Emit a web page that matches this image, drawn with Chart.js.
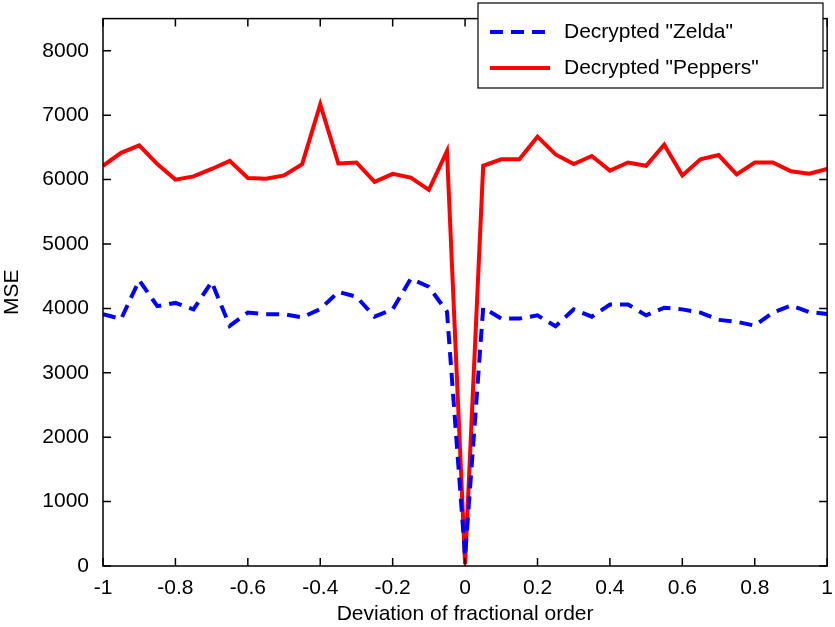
<!DOCTYPE html>
<html>
<head>
<meta charset="utf-8">
<script src="https://cdn.jsdelivr.net/npm/chart.js@4"></script>
<style>
  html, body { margin: 0; padding: 0; background: #fff; }
  #wrap { width: 835px; height: 627px; }
</style>
</head>
<body>
<div id="wrap"><canvas id="mseChart" width="835" height="627"></canvas></div>
<script>
// --- Data ---
const deviations = [-1, -0.95, -0.9, -0.85, -0.8, -0.75, -0.7, -0.65, -0.6, -0.55, -0.5, -0.45, -0.4, -0.35, -0.3, -0.25, -0.2, -0.15, -0.1, -0.05,
    0, 0.05, 0.1, 0.15, 0.2, 0.25, 0.3, 0.35, 0.4, 0.45, 0.5, 0.55, 0.6, 0.65, 0.7, 0.75, 0.8, 0.85, 0.9, 0.95, 1];
const zeldaMSE = [3910, 3835, 4436, 4035, 4085, 3985, 4411, 3727, 3935, 3910, 3910, 3860, 3990, 4256, 4181, 3872, 3985, 4461, 4336, 3950,
    150, 4010, 3842, 3842, 3892, 3722, 3985, 3872, 4060, 4060, 3892, 4010, 3985, 3935, 3822, 3792, 3732, 3935, 4045, 3945, 3912];
const peppersMSE = [6215, 6416, 6531, 6241, 6000, 6050, 6165, 6291, 6025, 6015, 6065, 6241, 7168, 6250, 6266, 5965, 6090, 6030, 5840, 6441,
    30, 6215, 6316, 6316, 6667, 6391, 6241, 6366, 6140, 6266, 6215, 6541, 6065, 6316, 6381, 6080, 6266, 6266, 6130, 6090, 6165];
const seriesNames = ['Decrypted "Zelda"', 'Decrypted "Peppers"'];
const yTicks = [0, 1000, 2000, 3000, 4000, 5000, 6000, 7000, 8000];
const xTicks = [-1, -0.8, -0.6, -0.4, -0.2, 0, 0.2, 0.4, 0.6, 0.8, 1];

const FONT = 'Arial, "Liberation Sans", sans-serif';
const toPoints = vals => vals.map((v, i) => ({ x: deviations[i], y: v }));

// frame, inward ticks and the legend box, drawn like the MATLAB figure
const framePlugin = {
    id: 'frame',
    afterDraw(chart) {
        const { ctx, chartArea: a, scales: { x, y } } = chart;
        ctx.save();
        ctx.strokeStyle = '#000';
        ctx.lineWidth = 1.5;
        ctx.strokeRect(a.left, a.top, a.right - a.left, a.bottom - a.top);
        ctx.beginPath();
        xTicks.forEach(t => {
            const px = x.getPixelForValue(t);
            ctx.moveTo(px, a.bottom); ctx.lineTo(px, a.bottom - 8);
            ctx.moveTo(px, a.top); ctx.lineTo(px, a.top + 8);
        });
        yTicks.forEach(t => {
            const py = y.getPixelForValue(t);
            ctx.moveTo(a.left, py); ctx.lineTo(a.left + 8, py);
            ctx.moveTo(a.right, py); ctx.lineTo(a.right - 8, py);
        });
        ctx.stroke();

        // legend
        const bx = 478, by = 3, bw = 345, bh = 85;
        ctx.fillStyle = '#fff';
        ctx.fillRect(bx, by, bw, bh);
        ctx.lineWidth = 1.2;
        ctx.strokeRect(bx, by, bw, bh);
        ctx.font = '21px ' + FONT;
        ctx.textBaseline = 'middle';
        chart.data.datasets.forEach((ds, i) => {
            const ry = by + 29 + i * 36;
            ctx.strokeStyle = ds.borderColor;
            ctx.lineWidth = 4;
            ctx.setLineDash(ds.borderDash || []);
            ctx.beginPath();
            ctx.moveTo(bx + 12, ry); ctx.lineTo(bx + 72, ry);
            ctx.stroke();
            ctx.setLineDash([]);
            ctx.fillStyle = '#000';
            ctx.fillText(ds.label, bx + 86, ry);
        });
        ctx.restore();
    }
};

new Chart(document.getElementById('mseChart').getContext('2d'), {
    type: 'line',
    data: {
        datasets: [
            { label: seriesNames[0], data: toPoints(zeldaMSE), borderColor: '#0000ff', borderWidth: 4, borderDash: [13, 8], pointRadius: 0, tension: 0 },
            { label: seriesNames[1], data: toPoints(peppersMSE), borderColor: '#ff0000', borderWidth: 4, pointRadius: 0, tension: 0 }
        ]
    },
    options: {
        responsive: false,
        animation: false,
        layout: { padding: { top: -17, right: 6, left: 0, bottom: 0 } },
        plugins: { legend: { display: false }, tooltip: { enabled: false } },
        scales: {
            x: {
                type: 'linear', min: -1, max: 1,
                grid: { display: false }, border: { display: false },
                afterBuildTicks: s => { s.ticks = xTicks.map(v => ({ value: v })); },
                afterFit: s => { s.height = 61; },
                ticks: { color: '#000', font: { size: 21, family: FONT }, padding: 2, maxRotation: 0,
                    callback: v => String(Number(v.toFixed(1))) },
                title: { display: true, text: 'Deviation of fractional order', color: '#000', font: { size: 21, family: FONT }, padding: 0 }
            },
            y: {
                min: 0, max: 8500,
                grid: { display: false }, border: { display: false },
                afterBuildTicks: s => { s.ticks = yTicks.map(v => ({ value: v })); },
                afterFit: s => { s.width = 103; },
                ticks: { color: '#000', font: { size: 21, family: FONT }, padding: 6, callback: v => String(v) },
                title: { display: true, text: 'MSE', color: '#000', font: { size: 21, family: FONT }, padding: 0 }
            }
        }
    },
    plugins: [framePlugin]
});
</script>
</body>
</html>
